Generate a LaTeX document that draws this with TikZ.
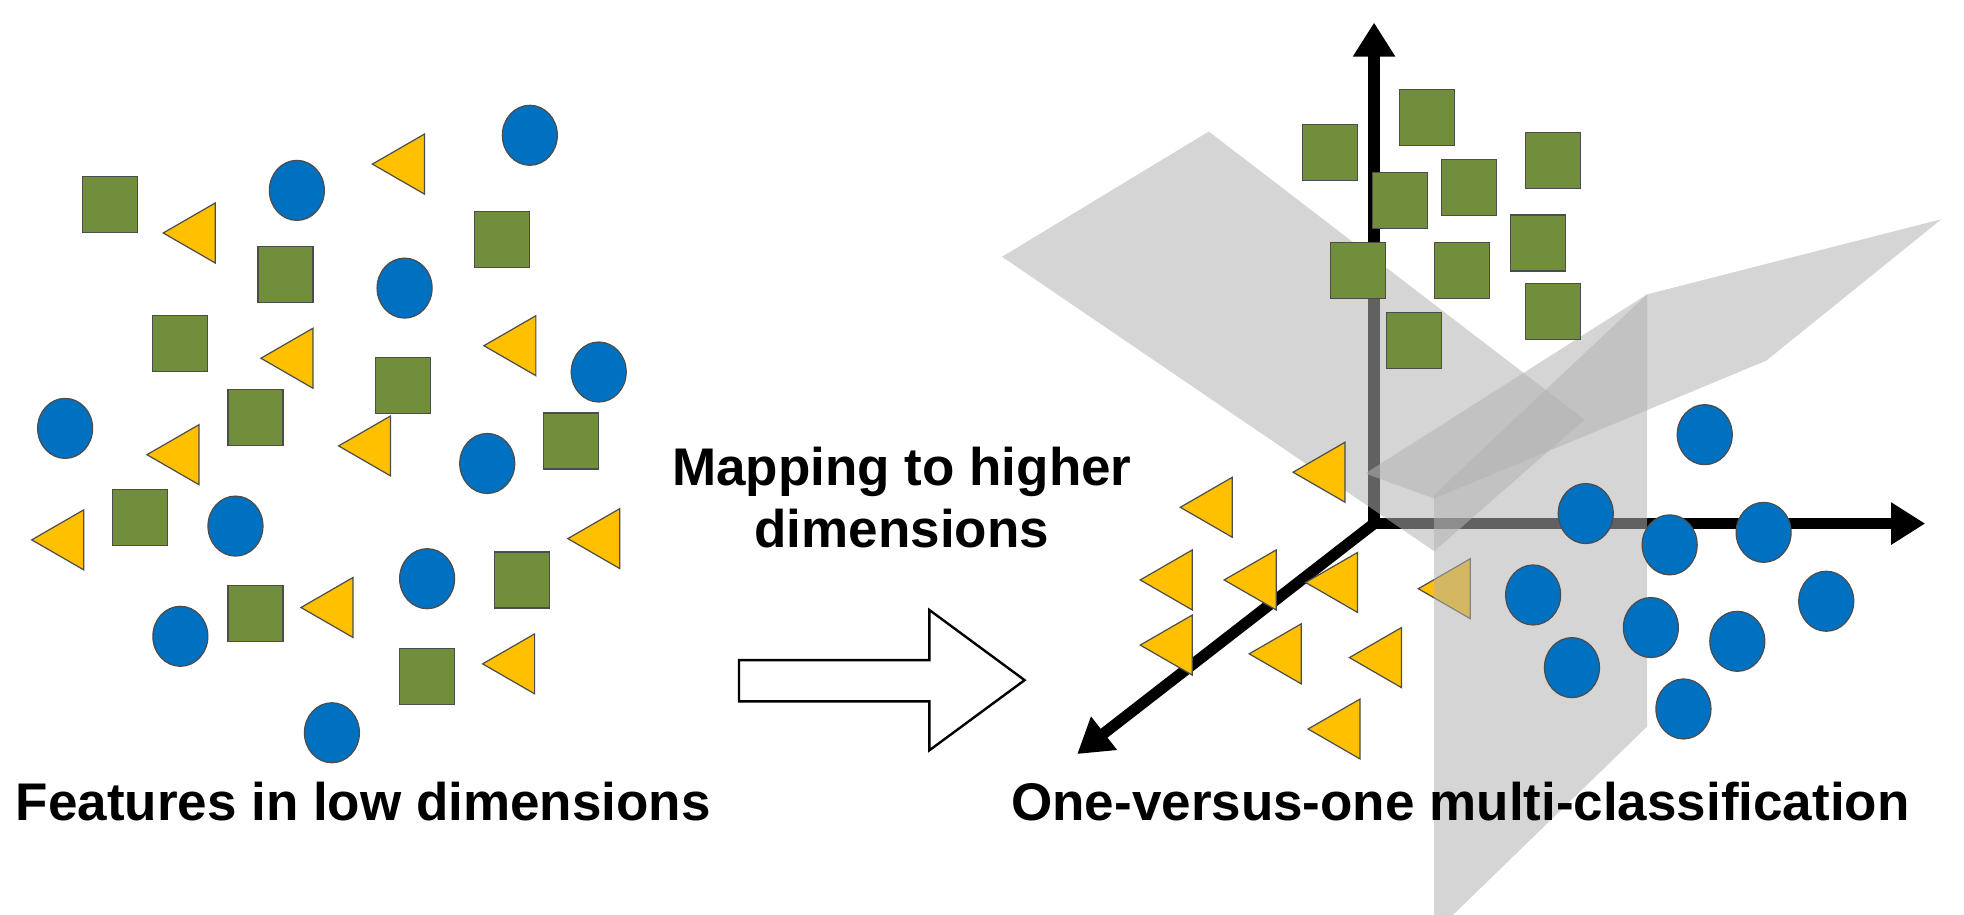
\documentclass[tikz,border=0pt]{standalone}
\usepackage{fontspec}
\setmainfont{Liberation Sans}
\usetikzlibrary{shapes.geometric,arrows.meta}
\definecolor{cb}{RGB}{0,112,192}
\definecolor{cg}{RGB}{112,142,60}
\definecolor{cy}{RGB}{255,192,0}
\begin{document}
\begin{tikzpicture}[x=0.6263pt,y=-0.6263pt,
 circ/.style={ellipse,draw=black!70,fill=cb,minimum width=27.5pt,minimum height=30pt,inner sep=0,line width=0.6pt},
 sq/.style={rectangle,draw=black!70,fill=cg,minimum width=27.5pt,minimum height=28pt,inner sep=0,line width=0.6pt},
 tri/.style={isosceles triangle,isosceles triangle stretches,shape border rotate=180,draw=black!70,fill=cy,minimum width=30pt,minimum height=26pt,inner sep=0,line width=0.6pt},
 plane/.style={fill=black!30,opacity=0.55,draw=none},
 axis/.style={line width=5.6pt,-{Triangle[length=17pt,width=20pt]}},
 lbl/.style={font=\bfseries\fontsize{26.5}{31}\selectfont,align=center}]
\useasboundingbox (0,0) rectangle (1568,730);
% left panel
\foreach \x/\y [count=\i] in {423/108,237/152,323/230,478/297,52/342,389/370,188/420,341/462,144/508,265/585}
  \node[circ] (lc\i) at (\x,\y) {};
\foreach \x/\y [count=\i] in {88/163,228/219,401/191,144/274,322/308,204/333,456/352,112/413,204/490,417/463,341/540}
  \node[sq] (ls\i) at (\x,\y) {};
\foreach \x/\y [count=\i] in {325/131,158/186,236/286,414/276,145/363,298/356,53/431,481/430,268/485,413/530}
  \node[tri] (lt\i) at (\x,\y) {};
% block arrow
\draw[line width=1.2pt,fill=white] (590,527) -- (742,527) -- (742,487) -- (818,543) -- (742,599) -- (742,560) -- (590,560) -- cycle;
% axes
\coordinate (o) at (1097,418);
\coordinate (ay) at (1097,18);
\coordinate (ax) at (1537,418);
\coordinate (az) at (860,602);
\draw[axis] (o) -- (ay);
\draw[axis] (o) -- (ax);
\draw[axis] (o) -- (az);
% faded triangle (behind vertical plane)
\node[tri] (ft) at (1160,470) {};
% planes
\fill[plane] (800,205) -- (965,105) -- (1265,335) -- (1145,440) -- cycle;
\fill[plane] (1090,378) -- (1315,235) -- (1550,175) -- (1410,288) -- (1145,398) -- cycle;
\fill[plane] (1145,395) -- (1315,235) -- (1315,580) -- (1145,745) -- cycle;
% right shapes
\foreach \x/\y [count=\i] in {1062/122,1139/94,1240/128,1118/160,1173/150,1228/194,1084/216,1167/216,1240/249,1129/272}
  \node[sq] (rs\i) at (\x,\y) {};
\foreach \x/\y [count=\i] in {1361/347,1266/410,1333/435,1408/425,1224/475,1318/501,1458/480,1387/512,1255/533,1344/566}
  \node[circ] (rc\i) at (\x,\y) {};
\foreach \x/\y [count=\i] in {1060/377,970/405,938/463,1005/463,1070/465,938/515,1025/522,1105/525,1072/582}
  \node[tri] (rt\i) at (\x,\y) {};
% texts
\node[lbl] (t1) at (720,397) {Mapping to higher\\dimensions};
\node[lbl] (t2) at (290,640) {Features in low dimensions};
\node[lbl] (t3) at (1166,640) {One-versus-one multi-classification};
\end{tikzpicture}
\end{document}
